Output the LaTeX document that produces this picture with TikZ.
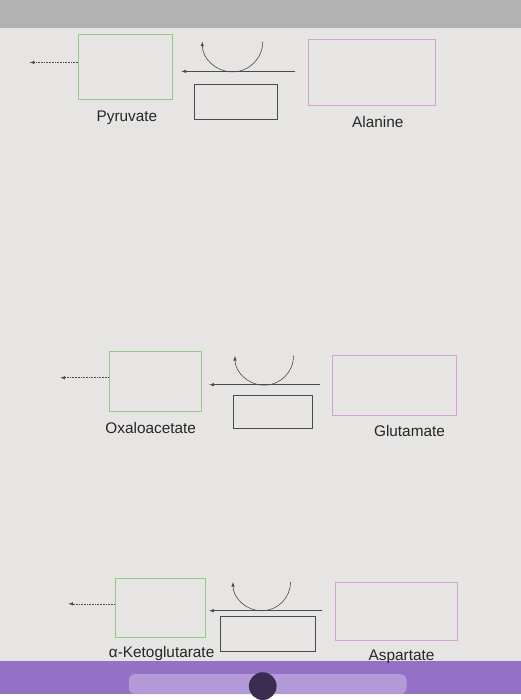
\documentclass[tikz,border=0pt]{standalone}
\usepackage{fontspec}
\setmainfont{Liberation Sans}
\usetikzlibrary{positioning,arrows.meta}

\definecolor{screen}{HTML}{E7E5E3}
\definecolor{topband}{HTML}{B3B2B2}
\definecolor{boxgreen}{HTML}{96C987}
\definecolor{boxpink}{HTML}{D6A2D1}
\definecolor{ink}{HTML}{4A4A4A}
\definecolor{barpurple}{HTML}{9470C6}

\begin{document}
\begin{tikzpicture}[x=1pt,y=1pt,>=latex,thick,
  green box/.style={rectangle,draw=boxgreen,line width=0.9pt,inner sep=0pt},
  pink box/.style={rectangle,draw=boxpink,line width=0.9pt,inner sep=0pt},
  blank box/.style={rectangle,draw=ink,line width=0.7pt,inner sep=0pt},
  label/.style={font=\fontsize{15.5}{18}\selectfont,text=black!85},
  dot arrow/.style={->,densely dotted,draw=ink,line width=0.6pt},
  rxn line/.style={->,draw=ink,line width=0.6pt}]
  % page
  \fill[screen] (0,0) rectangle (525,700);
  \fill[topband] (0,672) rectangle (525,700);
  \fill[barpurple] (0,0) rectangle (525,33);
  \fill[barpurple!70!white,rounded corners=6pt] (130,0) rectangle (410,20);
  \fill[barpurple!40!black] (265,8) circle (14);
  \useasboundingbox (0,0) rectangle (525,700);

  % row 1
  \node[green box,minimum width=95,minimum height=65] (pyr) at (126.5,632.5) {};
  \node[pink box,minimum width=128,minimum height=66] (ala) at (375,627) {};
  \node[blank box,minimum width=84,minimum height=35] (b1) at (238,597.5) {};
  \node[label] (pyrlab) at (128,581) {Pyruvate};
  \node[label] (alalab) at (381,577) {Alanine};
  \coordinate (d1) at (30,637);
  \coordinate (r1) at (298,628);
  \coordinate (l1) at (183,628);
  \coordinate (a1) at (204,658);
  \draw[dot arrow] (pyr.west |- d1) -- (d1);
  \draw[rxn line] (r1) -- (l1);
  \draw[<-,draw=ink,line width=0.6pt] (a1) arc[start angle=180,end angle=360,radius=30.5];

  % row 2
  \node[green box,minimum width=93,minimum height=61] (oaa) at (156.5,315.5) {};
  \node[pink box,minimum width=125,minimum height=61] (glu) at (397.5,311.5) {};
  \node[blank box,minimum width=80,minimum height=33] (b2) at (275,284.5) {};
  \node[label] (oaalab) at (152,268) {Oxaloacetate};
  \node[label] (glulab) at (413,265) {Glutamate};
  \coordinate (d2) at (61,319);
  \coordinate (r2) at (323,312);
  \coordinate (l2) at (211,312);
  \coordinate (a2) at (237,341);
  \draw[dot arrow] (oaa.west |- d2) -- (d2);
  \draw[rxn line] (r2) -- (l2);
  \draw[<-,draw=ink,line width=0.6pt] (a2) arc[start angle=180,end angle=360,radius=29.5];

  % row 3
  \node[green box,minimum width=91,minimum height=60] (akg) at (161.5,87) {};
  \node[pink box,minimum width=123,minimum height=59] (asp) at (399.5,83.5) {};
  \node[blank box,minimum width=96,minimum height=35] (b3) at (270,60.5) {};
  \node[label] (akglab) at (163,41) {α-Ketoglutarate};
  \node[label] (asplab) at (405,38) {Aspartate};
  \coordinate (d3) at (69,91);
  \coordinate (r3) at (325,84);
  \coordinate (l3) at (211,84);
  \coordinate (a3) at (235,113);
  \draw[dot arrow] (akg.west |- d3) -- (d3);
  \draw[rxn line] (r3) -- (l3);
  \draw[<-,draw=ink,line width=0.6pt] (a3) arc[start angle=180,end angle=360,radius=29];
\end{tikzpicture}
\end{document}
